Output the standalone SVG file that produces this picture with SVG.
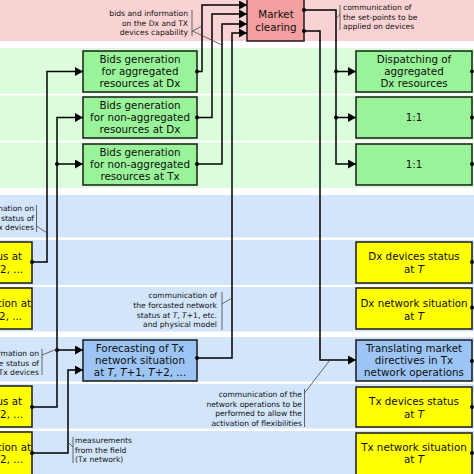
<svg xmlns="http://www.w3.org/2000/svg" width="474" height="474" viewBox="0 0 474 474">
<defs>
<style>
.bp{fill:#f9d3d3}.bg{fill:#dcfddc}.bb{fill:#d3e5fb}
.box{stroke:#1a1a1a;stroke-width:1.5}
.g{fill:#99f499}.r{fill:#f4a0a0}.y{fill:#ffff00}.b{fill:#9cc5f5}
.t{font-family:"DejaVu Sans",Verdana,sans-serif;font-size:10.3px;fill:#0d0d0d;text-anchor:middle}
.te{font-family:"DejaVu Sans",Verdana,sans-serif;font-size:10.3px;fill:#0d0d0d;text-anchor:end}
.a{font-family:"DejaVu Sans",Verdana,sans-serif;font-size:7.6px;fill:#111}
.ae{font-family:"DejaVu Sans",Verdana,sans-serif;font-size:7.6px;fill:#111;text-anchor:end}
.c{fill:none;stroke:#000;stroke-width:1.5}
.ar{marker-end:url(#arr)}
.br{fill:none;stroke:#444;stroke-width:0.8}
.d{fill:#000}
</style>
<marker id="arr" markerUnits="userSpaceOnUse" markerWidth="9" markerHeight="10" refX="8" refY="4.5" orient="auto">
<path d="M0,0 L8,4.5 L0,9 z" fill="#000"/>
</marker>
</defs>
<g id="bands">
<rect class="bp" x="0" y="0" width="474" height="41"/>
<rect class="bg" x="0" y="48" width="474" height="45.5"/>
<rect class="bg" x="0" y="95.5" width="474" height="45"/>
<rect class="bg" x="0" y="142.5" width="474" height="45.5"/>
<rect class="bb" x="0" y="195" width="474" height="42.5"/>
<rect class="bb" x="0" y="240" width="474" height="45"/>
<rect class="bb" x="0" y="287" width="474" height="44.5"/>
<rect class="bb" x="0" y="337" width="474" height="44.5"/>
<rect class="bb" x="0" y="384" width="474" height="44.5"/>
<rect class="bb" x="0" y="431" width="474" height="43"/>
</g>
<g id="market-clearing">
<rect class="box r" x="247" y="-2" width="57" height="43"/>
<text class="t" x="276" y="18">Market</text>
<text class="t" x="276" y="30.5">clearing</text>
</g>
<g id="bids-agg-dx">
<rect class="box g" x="83" y="51" width="114" height="41"/>
<text class="t" x="140" y="63">Bids generation</text>
<text class="t" x="140" y="75">for aggregated</text>
<text class="t" x="140" y="87.3">resources at Dx</text>
</g>
<g id="bids-nonagg-dx">
<rect class="box g" x="83" y="97" width="114" height="41"/>
<text class="t" x="140" y="109">Bids generation</text>
<text class="t" x="140" y="121">for non-aggregated</text>
<text class="t" x="140" y="133.3">resources at Dx</text>
</g>
<g id="bids-nonagg-tx">
<rect class="box g" x="83" y="144" width="114" height="41"/>
<text class="t" x="140" y="155.5">Bids generation</text>
<text class="t" x="140" y="167.5">for non-aggregated</text>
<text class="t" x="140" y="179.8">resources at Tx</text>
</g>
<g id="dispatching">
<rect class="box g" x="356" y="51" width="116" height="41"/>
<text class="t" x="414" y="63">Dispatching of</text>
<text class="t" x="414" y="75">aggregated</text>
<text class="t" x="414" y="87.3">Dx resources</text>
</g>
<g id="one-to-one-1">
<rect class="box g" x="356" y="97" width="116" height="41"/>
<text class="t" x="414" y="121">1:1</text>
</g>
<g id="one-to-one-2">
<rect class="box g" x="356" y="144" width="116" height="41"/>
<text class="t" x="414" y="167.5">1:1</text>
</g>
<g id="dx-devices-forecast">
<rect class="box y" x="-90" y="242" width="122" height="41"/>
<text class="te" x="22" y="260">Dx devices status at</text>
<text class="te" x="23" y="273"><tspan font-style="italic">T</tspan>, <tspan font-style="italic">T</tspan>+1, <tspan font-style="italic">T</tspan>+2, ...</text>
</g>
<g id="dx-network-forecast">
<rect class="box y" x="-90" y="288" width="122" height="41"/>
<text class="te" x="31" y="306.5">Dx network situation at</text>
<text class="te" x="22" y="319.5"><tspan font-style="italic">T</tspan>, <tspan font-style="italic">T</tspan>+1, <tspan font-style="italic">T</tspan>+2, ...</text>
</g>
<g id="tx-devices-forecast">
<rect class="box y" x="-90" y="386" width="122" height="41"/>
<text class="te" x="22" y="404.5">Tx devices status at</text>
<text class="te" x="23" y="417.5"><tspan font-style="italic">T</tspan>, <tspan font-style="italic">T</tspan>+1, <tspan font-style="italic">T</tspan>+2, ...</text>
</g>
<g id="tx-network-forecast">
<rect class="box y" x="-90" y="432" width="122" height="46"/>
<text class="te" x="31" y="450.5">Tx network situation at</text>
<text class="te" x="23" y="463"><tspan font-style="italic">T</tspan>, <tspan font-style="italic">T</tspan>+1, <tspan font-style="italic">T</tspan>+2, ...</text>
</g>
<g id="dx-devices-status">
<rect class="box y" x="356" y="242" width="116" height="41"/>
<text class="t" x="414" y="260">Dx devices status</text>
<text class="t" x="414" y="273">at <tspan font-style="italic">T</tspan></text>
</g>
<g id="dx-network-status">
<rect class="box y" x="356" y="288" width="116" height="41"/>
<text class="t" x="414" y="306.5">Dx network situation</text>
<text class="t" x="414" y="319.5">at <tspan font-style="italic">T</tspan></text>
</g>
<g id="tx-devices-status">
<rect class="box y" x="356" y="387" width="116" height="40"/>
<text class="t" x="414" y="404.5">Tx devices status</text>
<text class="t" x="414" y="417.5">at <tspan font-style="italic">T</tspan></text>
</g>
<g id="tx-network-status">
<rect class="box y" x="356" y="433" width="116" height="45"/>
<text class="t" x="414" y="450.5">Tx network situation</text>
<text class="t" x="414" y="463">at <tspan font-style="italic">T</tspan></text>
</g>
<g id="forecasting-tx">
<rect class="box b" x="83" y="340" width="114" height="41"/>
<text class="t" x="140" y="351.5">Forecasting of Tx</text>
<text class="t" x="140" y="363.8">network situation</text>
<text class="t" x="140" y="376">at <tspan font-style="italic">T</tspan>, <tspan font-style="italic">T</tspan>+1, <tspan font-style="italic">T</tspan>+2, ...</text>
</g>
<g id="translating">
<rect class="box b" x="356" y="340" width="116" height="41"/>
<text class="t" x="414" y="351.5">Translating market</text>
<text class="t" x="414" y="363.8">directives in Tx</text>
<text class="t" x="414" y="376">network operations</text>
</g>
<g id="connectors">
<path class="c ar" d="M197,71.5 H202 V5 H247"/>
<path class="c ar" d="M197,117.5 H212 V14 H247"/>
<path class="c ar" d="M197,164 H222 V24 H247"/>
<path class="c ar" d="M197,358 H232 V33 H247"/>
<path class="c ar" d="M304,10 H336 V164 H356"/>
<path class="c ar" d="M336,71.5 H356"/>
<path class="c ar" d="M336,117.5 H356"/>
<path class="c ar" d="M304,31 H320 V360 H356"/>
<path class="c ar" d="M32,262 H47 V71.5 H83"/>
<path class="c ar" d="M32,407 H57 V117.5 H83"/>
<path class="c ar" d="M57,164 H83"/>
<path class="c ar" d="M57,350 H83"/>
<path class="c ar" d="M32,453 H68 V370 H83"/>
<circle class="d" cx="197" cy="71.5" r="2"/>
<circle class="d" cx="197" cy="117.5" r="2"/>
<circle class="d" cx="197" cy="164" r="2"/>
<circle class="d" cx="197" cy="358" r="2"/>
<circle class="d" cx="304" cy="10" r="2"/>
<circle class="d" cx="304" cy="31" r="2"/>
<circle class="d" cx="336" cy="71.5" r="2"/>
<circle class="d" cx="336" cy="117.5" r="2"/>
<circle class="d" cx="32" cy="262" r="2"/>
<circle class="d" cx="32" cy="407" r="2"/>
<circle class="d" cx="32" cy="453" r="2"/>
<circle class="d" cx="57" cy="164" r="2"/>
<circle class="d" cx="57" cy="350" r="2"/>
<circle class="d" cx="472" cy="71.5" r="2"/>
<circle class="d" cx="472" cy="117.5" r="2"/>
<circle class="d" cx="472" cy="164" r="2"/>
<circle class="d" cx="472" cy="262" r="2"/>
<circle class="d" cx="472" cy="307.5" r="2"/>
<circle class="d" cx="472" cy="361" r="2"/>
<circle class="d" cx="472" cy="407" r="2"/>
<circle class="d" cx="472" cy="453" r="2"/>
</g>
<g id="annotations">
<path class="br" d="M192,10 V36 M192.5,31 L202,26 M192.5,31 L222,45"/>
<text class="ae" x="188" y="16">bids and information</text>
<text class="ae" x="188" y="25.5">on the Dx and TX</text>
<text class="ae" x="188" y="35">devices capability</text>
<path class="br" d="M340,5 V30 M340,14 L336,19"/>
<text class="a" x="343" y="10">communication of</text>
<text class="a" x="343" y="19.5">the set-points to be</text>
<text class="a" x="343" y="29">applied on devices</text>
<path class="br" d="M36.5,205 V232 M36.5,226 L47,233"/>
<text class="ae" x="34" y="211">information on</text>
<text class="ae" x="34" y="220.5">the status of</text>
<text class="ae" x="34" y="230">Dx devices</text>
<path class="br" d="M222,292 V330 M222,304 L232,298"/>
<text class="ae" x="217" y="298">communication of</text>
<text class="ae" x="217" y="307.7">the forcasted network</text>
<text class="ae" x="217" y="317.5">status at <tspan font-style="italic">T</tspan>, <tspan font-style="italic">T</tspan>+1, etc.</text>
<text class="ae" x="217" y="327">and physical model</text>
<path class="br" d="M42,349 V375 M42,355 L57,349"/>
<text class="ae" x="39" y="356">information on</text>
<text class="ae" x="39" y="365.5">the status of</text>
<text class="ae" x="39" y="375">Tx devices</text>
<path class="br" d="M304.5,389 V427 M304.5,393 L330,360"/>
<text class="ae" x="302" y="397">communication of the</text>
<text class="ae" x="302" y="406.5">network operations to be</text>
<text class="ae" x="302" y="416">performed to allow the</text>
<text class="ae" x="302" y="425.5">activation of flexibilities</text>
<path class="br" d="M73,437 V463 M73,447 L68,442"/>
<text class="a" x="75" y="443">measurements</text>
<text class="a" x="75" y="452.5">from the field</text>
<text class="a" x="75" y="462">(Tx network)</text>
</g>
</svg>
